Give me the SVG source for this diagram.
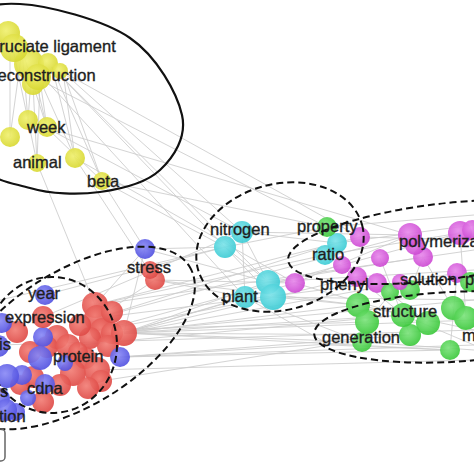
<svg xmlns="http://www.w3.org/2000/svg" width="474" height="474" viewBox="0 0 474 474">
<defs>
<radialGradient id="gy" cx="0.42" cy="0.4" r="0.62"><stop offset="0" stop-color="#f0f070"/><stop offset="1" stop-color="#d8d832"/></radialGradient>
<radialGradient id="gr" cx="0.42" cy="0.4" r="0.62"><stop offset="0" stop-color="#f27e76"/><stop offset="1" stop-color="#de4a46"/></radialGradient>
<radialGradient id="gb" cx="0.42" cy="0.4" r="0.62"><stop offset="0" stop-color="#8a8af6"/><stop offset="1" stop-color="#5252e0"/></radialGradient>
<radialGradient id="gc" cx="0.42" cy="0.4" r="0.62"><stop offset="0" stop-color="#7ee4ea"/><stop offset="1" stop-color="#3ccbd4"/></radialGradient>
<radialGradient id="gm" cx="0.42" cy="0.4" r="0.62"><stop offset="0" stop-color="#e88aec"/><stop offset="1" stop-color="#cc48d2"/></radialGradient>
<radialGradient id="gg" cx="0.42" cy="0.4" r="0.62"><stop offset="0" stop-color="#7ee47e"/><stop offset="1" stop-color="#3cc83c"/></radialGradient>
<style>
.e line{stroke:#cdcdcd;stroke-width:1;opacity:.85}
.y{fill:url(#gy);opacity:.92}
.r{fill:url(#gr);opacity:.92}
.b{fill:url(#gb);opacity:.92}
.c{fill:url(#gc);opacity:.92}
.m{fill:url(#gm);opacity:.92}
.g{fill:url(#gg);opacity:.92}
text{font-family:"Liberation Sans",Arial,sans-serif;font-size:16.5px;fill:#1e1e1e;stroke:#1e1e1e;stroke-width:0.35}
.ds{fill:none;stroke:#111;stroke-width:2;stroke-dasharray:7 4}
.so{fill:none;stroke:#111;stroke-width:2.2}
</style>
</defs>
<rect width="474" height="474" fill="#fff"/>
<g id="connectors" class="e">
<line x1="22" y1="50" x2="28" y2="120"/><line x1="32" y1="65" x2="47" y2="128"/><line x1="40" y1="80" x2="75" y2="158"/>
<line x1="32" y1="65" x2="37" y2="163"/><line x1="22" y1="50" x2="10" y2="137"/><line x1="52" y1="67" x2="102" y2="181"/>
<line x1="40" y1="80" x2="47" y2="128"/><line x1="63" y1="72" x2="75" y2="158"/><line x1="10" y1="35" x2="28" y2="120"/>
<line x1="32" y1="65" x2="28" y2="120"/><line x1="40" y1="80" x2="37" y2="163"/><line x1="52" y1="67" x2="75" y2="158"/>
<line x1="63" y1="72" x2="102" y2="181"/><line x1="22" y1="50" x2="47" y2="128"/><line x1="10" y1="35" x2="10" y2="137"/>
<line x1="28" y1="120" x2="37" y2="163"/><line x1="47" y1="128" x2="102" y2="181"/>
<line x1="52" y1="67" x2="225" y2="247"/><line x1="63" y1="72" x2="242" y2="232"/><line x1="40" y1="80" x2="327" y2="227"/>
<line x1="63" y1="72" x2="360" y2="237"/><line x1="52" y1="67" x2="268" y2="282"/><line x1="47" y1="128" x2="242" y2="232"/>
<line x1="75" y1="158" x2="295" y2="283"/><line x1="102" y1="181" x2="145" y2="249"/><line x1="102" y1="181" x2="225" y2="247"/>
<line x1="102" y1="181" x2="327" y2="227"/><line x1="37" y1="163" x2="95" y2="305"/><line x1="75" y1="158" x2="155" y2="280"/>
<line x1="32" y1="65" x2="245" y2="297"/><line x1="47" y1="128" x2="410" y2="235"/>
<line x1="145" y1="249" x2="95" y2="305"/><line x1="145" y1="249" x2="124" y2="333"/><line x1="145" y1="249" x2="225" y2="247"/>
<line x1="155" y1="280" x2="245" y2="297"/><line x1="155" y1="280" x2="295" y2="283"/><line x1="155" y1="280" x2="97" y2="318"/>
<line x1="145" y1="249" x2="268" y2="282"/><line x1="155" y1="280" x2="358" y2="305"/>
<line x1="124" y1="333" x2="245" y2="297"/><line x1="124" y1="333" x2="268" y2="282"/><line x1="124" y1="333" x2="295" y2="283"/>
<line x1="124" y1="333" x2="357" y2="277"/><line x1="124" y1="333" x2="362" y2="342"/><line x1="124" y1="333" x2="358" y2="305"/>
<line x1="124" y1="333" x2="410" y2="335"/><line x1="124" y1="333" x2="450" y2="350"/><line x1="124" y1="333" x2="457" y2="273"/>
<line x1="102" y1="330" x2="273" y2="297"/><line x1="102" y1="330" x2="342" y2="265"/><line x1="102" y1="330" x2="367" y2="322"/>
<line x1="120" y1="357" x2="362" y2="342"/><line x1="120" y1="357" x2="450" y2="350"/><line x1="120" y1="357" x2="410" y2="335"/>
<line x1="97" y1="318" x2="337" y2="243"/><line x1="97" y1="318" x2="377" y2="283"/><line x1="68" y1="346" x2="403" y2="315"/>
<line x1="43" y1="317" x2="242" y2="232"/><line x1="95" y1="305" x2="360" y2="237"/><line x1="95" y1="305" x2="325" y2="255"/>
<line x1="45" y1="295" x2="225" y2="247"/><line x1="97" y1="370" x2="474" y2="360"/><line x1="0" y1="345" x2="474" y2="330"/>
<line x1="101" y1="381" x2="330" y2="345"/><line x1="112" y1="333" x2="474" y2="300"/><line x1="95" y1="305" x2="474" y2="250"/>
<line x1="0" y1="300" x2="225" y2="247"/><line x1="124" y1="333" x2="474" y2="320"/><line x1="120" y1="357" x2="474" y2="345"/>
<line x1="97" y1="318" x2="410" y2="235"/><line x1="124" y1="333" x2="403" y2="315"/>
<line x1="242" y1="232" x2="268" y2="282"/><line x1="225" y1="247" x2="273" y2="297"/><line x1="242" y1="232" x2="245" y2="297"/>
<line x1="225" y1="247" x2="268" y2="282"/><line x1="242" y1="232" x2="337" y2="243"/><line x1="225" y1="247" x2="327" y2="227"/>
<line x1="273" y1="297" x2="358" y2="305"/><line x1="295" y1="283" x2="410" y2="235"/><line x1="268" y1="282" x2="423" y2="257"/>
<line x1="245" y1="297" x2="362" y2="342"/><line x1="325" y1="255" x2="460" y2="233"/><line x1="295" y1="283" x2="403" y2="315"/>
<line x1="242" y1="232" x2="410" y2="235"/><line x1="268" y1="282" x2="474" y2="270"/><line x1="273" y1="297" x2="474" y2="300"/>
<line x1="245" y1="297" x2="330" y2="345"/>
<line x1="357" y1="277" x2="403" y2="315"/><line x1="377" y1="283" x2="428" y2="323"/><line x1="410" y1="235" x2="453" y2="308"/>
<line x1="423" y1="257" x2="410" y2="290"/><line x1="460" y1="233" x2="466" y2="318"/><line x1="400" y1="282" x2="367" y2="322"/>
<line x1="457" y1="273" x2="450" y2="350"/><line x1="380" y1="258" x2="410" y2="335"/><line x1="342" y1="265" x2="460" y2="233"/>
<line x1="360" y1="237" x2="474" y2="240"/><line x1="337" y1="243" x2="474" y2="225"/><line x1="358" y1="305" x2="474" y2="330"/>
<line x1="362" y1="342" x2="474" y2="350"/><line x1="403" y1="315" x2="474" y2="345"/><line x1="330" y1="345" x2="450" y2="350"/>
<line x1="327" y1="227" x2="474" y2="215"/>
</g>
<g id="nodes">
<g id="ny1"><circle class="y" cx="8" cy="33" r="12"/></g>
<g id="ny2"><circle class="y" cx="29" cy="64" r="15"/></g>
<g id="ny3"><circle class="y" cx="48" cy="63" r="10"/></g>
<g id="ny4"><circle class="y" cx="60" cy="71" r="8"/></g>
<g id="ny5"><circle class="y" cx="28" cy="120" r="10"/></g>
<g id="ny6"><circle class="y" cx="10" cy="137" r="10"/></g>
<g id="ny7"><circle class="y" cx="75" cy="158" r="10"/></g>
<g id="ny8"><circle class="y" cx="33" cy="84" r="11"/></g>
<g id="nr1"><circle class="r" cx="95" cy="305" r="13"/></g>
<g id="nr2"><circle class="r" cx="97" cy="318" r="13"/></g>
<g id="nr3"><circle class="r" cx="102" cy="330" r="12"/></g>
<g id="nr4"><circle class="r" cx="90" cy="338" r="11"/></g>
<g id="nr5"><circle class="r" cx="112" cy="333" r="11"/></g>
<g id="nr6"><circle class="r" cx="124" cy="333" r="13"/></g>
<g id="nr7"><circle class="r" cx="17" cy="332" r="11"/></g>
<g id="nr9"><circle class="r" cx="57" cy="337" r="12"/></g>
<g id="nr10"><circle class="r" cx="47" cy="347" r="11"/></g>
<g id="nr11"><circle class="r" cx="68" cy="346" r="12"/></g>
<g id="nr13"><circle class="r" cx="85" cy="358" r="11"/></g>
<g id="nr14"><circle class="r" cx="73" cy="373" r="13"/></g>
<g id="nr15"><circle class="r" cx="97" cy="370" r="13"/></g>
<g id="nr16"><circle class="r" cx="101" cy="381" r="11"/></g>
<g id="nr17"><circle class="r" cx="60" cy="385" r="11"/></g>
<g id="nr18"><circle class="r" cx="43" cy="402" r="11"/></g>
<g id="nr19"><circle class="r" cx="88" cy="388" r="11"/></g>
<g id="nr20"><circle class="r" cx="30" cy="352" r="11"/></g>
<g id="nr21"><circle class="r" cx="33" cy="377" r="11"/></g>
<g id="nr22"><circle class="r" cx="20" cy="385" r="10"/></g>
<g id="nr24"><circle class="r" cx="108" cy="346" r="11"/></g>
<g id="nr25"><circle class="r" cx="80" cy="325" r="11"/></g>
<g id="nr28"><circle class="r" cx="112" cy="312" r="11"/></g>
<g id="nr26"><circle class="r" cx="155" cy="280" r="10"/></g>
<g id="nr27"><circle class="r" cx="150" cy="270" r="9"/></g>
<g id="nb3"><circle class="b" cx="43" cy="337" r="10"/></g>
<g id="nb4"><circle class="b" cx="40" cy="358" r="12"/></g>
<g id="nb5"><circle class="b" cx="65" cy="363" r="8"/></g>
<g id="nb6"><circle class="b" cx="120" cy="357" r="10"/></g>
<g id="nb8"><circle class="b" cx="2" cy="323" r="10"/></g>
<g id="nb10"><circle class="b" cx="22" cy="375" r="10"/></g>
<g id="nb11"><circle class="b" cx="0" cy="398" r="10"/></g>
<g id="nb13"><circle class="b" cx="16" cy="412" r="9"/></g>
<g id="nb14"><circle class="b" cx="28" cy="398" r="8"/></g>
<g id="nc2"><circle class="c" cx="225" cy="247" r="11"/></g>
<g id="nc3"><circle class="c" cx="268" cy="282" r="12"/></g>
<g id="nc4"><circle class="c" cx="273" cy="297" r="13"/></g>
<g id="nc7"><circle class="c" cx="325" cy="255" r="10"/></g>
<g id="nm1"><circle class="m" cx="360" cy="237" r="10"/></g>
<g id="nm2"><circle class="m" cx="342" cy="265" r="9"/></g>
<g id="nm3"><circle class="m" cx="295" cy="283" r="10"/></g>
<g id="nm5"><circle class="m" cx="377" cy="283" r="10"/></g>
<g id="nm7"><circle class="m" cx="423" cy="257" r="10"/></g>
<g id="nm8"><circle class="m" cx="460" cy="233" r="12"/></g>
<g id="nm9"><circle class="m" cx="472" cy="230" r="10"/></g>
<g id="nm11"><circle class="m" cx="457" cy="273" r="10"/></g>
<g id="nm12"><circle class="m" cx="380" cy="258" r="9"/></g>
<g id="nm13"><circle class="m" cx="415" cy="245" r="10"/></g>
<g id="ng1"><circle class="g" cx="358" cy="305" r="12"/></g>
<g id="ng2"><circle class="g" cx="367" cy="322" r="12"/></g>
<g id="ng4"><circle class="g" cx="428" cy="323" r="12"/></g>
<g id="ng5"><circle class="g" cx="410" cy="335" r="11"/></g>
<g id="ng7"><circle class="g" cx="453" cy="308" r="12"/></g>
<g id="ng9"><circle class="g" cx="450" cy="350" r="10"/></g>
<g id="ng10"><circle class="g" cx="410" cy="290" r="10"/></g>
<g id="ng12"><circle class="g" cx="390" cy="292" r="9"/></g>
<g id="ny-cruciate"><circle class="y" cx="14" cy="48" r="14"/><text x="-9" y="52">cruciate ligament</text></g>
<g id="ny-reconstruction"><circle class="y" cx="38" cy="77" r="13"/><text x="-8" y="81">reconstruction</text></g>
<g id="ny-week"><circle class="y" cx="47" cy="127" r="10"/><text x="27" y="133">week</text></g>
<g id="ny-animal"><circle class="y" cx="37" cy="163" r="9"/><text x="13" y="168">animal</text></g>
<g id="ny-beta"><circle class="y" cx="102" cy="181" r="9"/><text x="87" y="187">beta</text></g>
<g id="nb-stress"><circle class="b" cx="145" cy="249" r="10"/><text x="127" y="273">stress</text></g>
<g id="nb-year"><circle class="b" cx="45" cy="295" r="10"/><text x="28" y="299">year</text></g>
<g id="nr-expression"><circle class="r" cx="43" cy="317" r="11"/><text x="5" y="323">expression</text></g>
<g id="nb-is"><circle class="b" cx="-2" cy="346" r="11"/><text x="-1" y="350">is</text></g>
<g id="nr-protein"><circle class="r" cx="78" cy="352" r="10"/><text x="53" y="362">protein</text></g>
<g id="nb-cdna"><circle class="b" cx="45" cy="384" r="10"/><text x="27" y="394">cdna</text></g>
<g id="nb-s"><circle class="b" cx="7" cy="376" r="12"/><text x="0" y="397">s</text></g>
<g id="nb-tion"><circle class="b" cx="6" cy="410" r="11"/><text x="-1" y="422">tion</text></g>
<g id="nc-nitrogen"><circle class="c" cx="242" cy="232" r="11"/><text x="210" y="235">nitrogen</text></g>
<g id="nc-plant"><circle class="c" cx="245" cy="297" r="11"/><text x="222" y="302">plant</text></g>
<g id="nc-ratio"><circle class="c" cx="337" cy="243" r="10"/><text x="312" y="260">ratio</text></g>
<g id="ng-property"><circle class="g" cx="327" cy="227" r="10"/><text x="297" y="232">property</text></g>
<g id="nm-phenyl"><circle class="m" cx="357" cy="277" r="10"/><text x="320" y="290">phenyl</text></g>
<g id="nm-polymerization"><circle class="m" cx="410" cy="235" r="12"/><text x="399" y="247">polymerization</text></g>
<g id="nm-solution"><circle class="m" cx="400" cy="282" r="8"/><text x="400" y="285">solution</text></g>
<g id="ng-p"><circle class="g" cx="470" cy="282" r="10"/><text x="465" y="285">p</text></g>
<g id="ng-structure"><circle class="g" cx="403" cy="315" r="12"/><text x="373" y="317">structure</text></g>
<g id="ng-generation"><circle class="g" cx="362" cy="342" r="10"/><text x="322" y="343">generation</text></g>
<g id="ng-m"><circle class="g" cx="466" cy="318" r="12"/><text x="462" y="341">m</text></g>
</g>
<g id="clusters">
<path class="so" d="M-30,30 C-22.5,4.8 -6.7,2.7 20,4 C46.7,5.3 103,19.5 130,38 C157,56.5 177,93 182,115 C187,137 173.7,157.2 160,170 C146.3,182.8 121.7,189 100,192 C78.3,195 50.8,194.2 30,188 C9.2,181.8 -15,181.3 -25,155 C-35,128.7 -37.5,55.2 -30,30 Z"/>
<ellipse class="ds" cx="52" cy="345" rx="65" ry="68"/>
<ellipse class="ds" cx="75" cy="338" rx="135" ry="67" transform="rotate(-32 75 338)"/>
<ellipse class="ds" cx="280" cy="247" rx="85" ry="63" transform="rotate(-15 280 247)"/>
<ellipse class="ds" cx="440" cy="242" rx="153" ry="38" transform="rotate(-7 440 242)"/>
<ellipse class="ds" cx="450" cy="327" rx="136" ry="35" transform="rotate(-3 450 327)"/>
<rect x="-20" y="429" width="25" height="32" rx="4" fill="none" stroke="#666" stroke-width="1.5"/>
</g>
</svg>
